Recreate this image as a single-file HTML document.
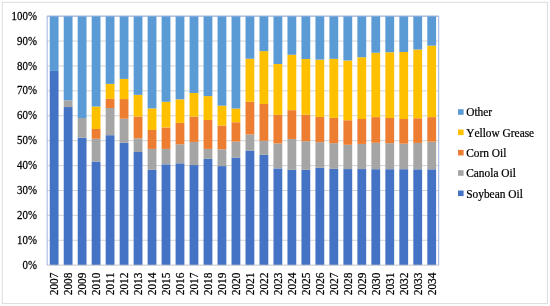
<!DOCTYPE html>
<html><head><meta charset="utf-8"><title>Chart</title>
<style>html,body{margin:0;padding:0;background:#fff}svg{display:block}text{font-family:"Liberation Serif","Times New Roman",serif;font-size:11px;fill:#000;stroke:#000;stroke-width:0.22px;font-kerning:none}</style></head><body>
<svg width="550" height="306" viewBox="0 0 550 306">
<rect x="0" y="0" width="550" height="306" fill="#ffffff"/>
<rect x="2.3" y="2.3" width="545.1" height="301.3" fill="#fff" stroke="#dcdcdc" stroke-width="1"/>
<line x1="47.15" x2="438.7" y1="265.20" y2="265.20" stroke="#d4d4d4" stroke-width="1"/>
<line x1="47.15" x2="438.7" y1="240.29" y2="240.29" stroke="#d4d4d4" stroke-width="1"/>
<line x1="47.15" x2="438.7" y1="215.39" y2="215.39" stroke="#d4d4d4" stroke-width="1"/>
<line x1="47.15" x2="438.7" y1="190.49" y2="190.49" stroke="#d4d4d4" stroke-width="1"/>
<line x1="47.15" x2="438.7" y1="165.58" y2="165.58" stroke="#d4d4d4" stroke-width="1"/>
<line x1="47.15" x2="438.7" y1="140.67" y2="140.67" stroke="#d4d4d4" stroke-width="1"/>
<line x1="47.15" x2="438.7" y1="115.77" y2="115.77" stroke="#d4d4d4" stroke-width="1"/>
<line x1="47.15" x2="438.7" y1="90.86" y2="90.86" stroke="#d4d4d4" stroke-width="1"/>
<line x1="47.15" x2="438.7" y1="65.96" y2="65.96" stroke="#d4d4d4" stroke-width="1"/>
<line x1="47.15" x2="438.7" y1="41.05" y2="41.05" stroke="#d4d4d4" stroke-width="1"/>
<line x1="47.15" x2="438.7" y1="16.15" y2="16.15" stroke="#d4d4d4" stroke-width="1"/>
<rect x="49.74" y="70.94" width="8.80" height="194.26" fill="#4472C4"/>
<rect x="49.74" y="16.15" width="8.80" height="54.79" fill="#5B9BD5"/>
<rect x="63.73" y="107.05" width="8.80" height="158.15" fill="#4472C4"/>
<rect x="63.73" y="100.33" width="8.80" height="6.72" fill="#A5A5A5"/>
<rect x="63.73" y="16.15" width="8.80" height="84.18" fill="#5B9BD5"/>
<rect x="77.71" y="137.69" width="8.80" height="127.51" fill="#4472C4"/>
<rect x="77.71" y="118.01" width="8.80" height="19.67" fill="#A5A5A5"/>
<rect x="77.71" y="16.15" width="8.80" height="101.86" fill="#5B9BD5"/>
<rect x="91.69" y="161.60" width="8.80" height="103.60" fill="#4472C4"/>
<rect x="91.69" y="138.81" width="8.80" height="22.79" fill="#A5A5A5"/>
<rect x="91.69" y="128.97" width="8.80" height="9.84" fill="#ED7D31"/>
<rect x="91.69" y="106.56" width="8.80" height="22.41" fill="#FFC000"/>
<rect x="91.69" y="16.15" width="8.80" height="90.41" fill="#5B9BD5"/>
<rect x="105.68" y="135.20" width="8.80" height="130.00" fill="#4472C4"/>
<rect x="105.68" y="108.05" width="8.80" height="27.15" fill="#A5A5A5"/>
<rect x="105.68" y="98.83" width="8.80" height="9.21" fill="#ED7D31"/>
<rect x="105.68" y="83.89" width="8.80" height="14.94" fill="#FFC000"/>
<rect x="105.68" y="16.15" width="8.80" height="67.74" fill="#5B9BD5"/>
<rect x="119.66" y="142.79" width="8.80" height="122.41" fill="#4472C4"/>
<rect x="119.66" y="118.76" width="8.80" height="24.03" fill="#A5A5A5"/>
<rect x="119.66" y="99.08" width="8.80" height="19.67" fill="#ED7D31"/>
<rect x="119.66" y="78.91" width="8.80" height="20.17" fill="#FFC000"/>
<rect x="119.66" y="16.15" width="8.80" height="62.76" fill="#5B9BD5"/>
<rect x="133.65" y="152.01" width="8.80" height="113.19" fill="#4472C4"/>
<rect x="133.65" y="138.43" width="8.80" height="13.57" fill="#A5A5A5"/>
<rect x="133.65" y="116.52" width="8.80" height="21.92" fill="#ED7D31"/>
<rect x="133.65" y="94.85" width="8.80" height="21.67" fill="#FFC000"/>
<rect x="133.65" y="16.15" width="8.80" height="78.70" fill="#5B9BD5"/>
<rect x="147.63" y="169.81" width="8.80" height="95.39" fill="#4472C4"/>
<rect x="147.63" y="148.89" width="8.80" height="20.92" fill="#A5A5A5"/>
<rect x="147.63" y="129.97" width="8.80" height="18.93" fill="#ED7D31"/>
<rect x="147.63" y="108.42" width="8.80" height="21.54" fill="#FFC000"/>
<rect x="147.63" y="16.15" width="8.80" height="92.27" fill="#5B9BD5"/>
<rect x="161.61" y="164.33" width="8.80" height="100.87" fill="#4472C4"/>
<rect x="161.61" y="148.89" width="8.80" height="15.44" fill="#A5A5A5"/>
<rect x="161.61" y="127.48" width="8.80" height="21.42" fill="#ED7D31"/>
<rect x="161.61" y="101.82" width="8.80" height="25.65" fill="#FFC000"/>
<rect x="161.61" y="16.15" width="8.80" height="85.67" fill="#5B9BD5"/>
<rect x="175.60" y="163.34" width="8.80" height="101.86" fill="#4472C4"/>
<rect x="175.60" y="144.29" width="8.80" height="19.05" fill="#A5A5A5"/>
<rect x="175.60" y="122.87" width="8.80" height="21.42" fill="#ED7D31"/>
<rect x="175.60" y="99.33" width="8.80" height="23.54" fill="#FFC000"/>
<rect x="175.60" y="16.15" width="8.80" height="83.18" fill="#5B9BD5"/>
<rect x="189.58" y="165.08" width="8.80" height="100.12" fill="#4472C4"/>
<rect x="189.58" y="141.92" width="8.80" height="23.16" fill="#A5A5A5"/>
<rect x="189.58" y="116.52" width="8.80" height="25.40" fill="#ED7D31"/>
<rect x="189.58" y="92.98" width="8.80" height="23.54" fill="#FFC000"/>
<rect x="189.58" y="16.15" width="8.80" height="76.83" fill="#5B9BD5"/>
<rect x="203.57" y="158.86" width="8.80" height="106.34" fill="#4472C4"/>
<rect x="203.57" y="148.89" width="8.80" height="9.96" fill="#A5A5A5"/>
<rect x="203.57" y="120.00" width="8.80" height="28.89" fill="#ED7D31"/>
<rect x="203.57" y="96.10" width="8.80" height="23.91" fill="#FFC000"/>
<rect x="203.57" y="16.15" width="8.80" height="79.95" fill="#5B9BD5"/>
<rect x="217.55" y="166.08" width="8.80" height="99.12" fill="#4472C4"/>
<rect x="217.55" y="149.27" width="8.80" height="16.81" fill="#A5A5A5"/>
<rect x="217.55" y="125.61" width="8.80" height="23.66" fill="#ED7D31"/>
<rect x="217.55" y="105.68" width="8.80" height="19.92" fill="#FFC000"/>
<rect x="217.55" y="16.15" width="8.80" height="89.53" fill="#5B9BD5"/>
<rect x="231.53" y="157.61" width="8.80" height="107.59" fill="#4472C4"/>
<rect x="231.53" y="141.55" width="8.80" height="16.06" fill="#A5A5A5"/>
<rect x="231.53" y="122.25" width="8.80" height="19.30" fill="#ED7D31"/>
<rect x="231.53" y="108.55" width="8.80" height="13.70" fill="#FFC000"/>
<rect x="231.53" y="16.15" width="8.80" height="92.40" fill="#5B9BD5"/>
<rect x="245.52" y="150.51" width="8.80" height="114.69" fill="#4472C4"/>
<rect x="245.52" y="134.45" width="8.80" height="16.06" fill="#A5A5A5"/>
<rect x="245.52" y="101.70" width="8.80" height="32.75" fill="#ED7D31"/>
<rect x="245.52" y="58.74" width="8.80" height="42.96" fill="#FFC000"/>
<rect x="245.52" y="16.15" width="8.80" height="42.59" fill="#5B9BD5"/>
<rect x="259.50" y="154.87" width="8.80" height="110.33" fill="#4472C4"/>
<rect x="259.50" y="140.80" width="8.80" height="14.07" fill="#A5A5A5"/>
<rect x="259.50" y="103.94" width="8.80" height="36.86" fill="#ED7D31"/>
<rect x="259.50" y="51.14" width="8.80" height="52.80" fill="#FFC000"/>
<rect x="259.50" y="16.15" width="8.80" height="34.99" fill="#5B9BD5"/>
<rect x="273.48" y="168.44" width="8.80" height="96.76" fill="#4472C4"/>
<rect x="273.48" y="143.41" width="8.80" height="25.03" fill="#A5A5A5"/>
<rect x="273.48" y="114.90" width="8.80" height="28.52" fill="#ED7D31"/>
<rect x="273.48" y="63.97" width="8.80" height="50.93" fill="#FFC000"/>
<rect x="273.48" y="16.15" width="8.80" height="47.82" fill="#5B9BD5"/>
<rect x="287.47" y="169.81" width="8.80" height="95.39" fill="#4472C4"/>
<rect x="287.47" y="138.93" width="8.80" height="30.88" fill="#A5A5A5"/>
<rect x="287.47" y="110.17" width="8.80" height="28.77" fill="#ED7D31"/>
<rect x="287.47" y="54.75" width="8.80" height="55.41" fill="#FFC000"/>
<rect x="287.47" y="16.15" width="8.80" height="38.60" fill="#5B9BD5"/>
<rect x="301.45" y="169.81" width="8.80" height="95.39" fill="#4472C4"/>
<rect x="301.45" y="141.17" width="8.80" height="28.64" fill="#A5A5A5"/>
<rect x="301.45" y="114.77" width="8.80" height="26.40" fill="#ED7D31"/>
<rect x="301.45" y="58.99" width="8.80" height="55.79" fill="#FFC000"/>
<rect x="301.45" y="16.15" width="8.80" height="42.84" fill="#5B9BD5"/>
<rect x="315.44" y="167.82" width="8.80" height="97.38" fill="#4472C4"/>
<rect x="315.44" y="142.17" width="8.80" height="25.65" fill="#A5A5A5"/>
<rect x="315.44" y="117.02" width="8.80" height="25.15" fill="#ED7D31"/>
<rect x="315.44" y="59.61" width="8.80" height="57.41" fill="#FFC000"/>
<rect x="315.44" y="16.15" width="8.80" height="43.46" fill="#5B9BD5"/>
<rect x="329.42" y="168.82" width="8.80" height="96.38" fill="#4472C4"/>
<rect x="329.42" y="143.17" width="8.80" height="25.65" fill="#A5A5A5"/>
<rect x="329.42" y="117.89" width="8.80" height="25.28" fill="#ED7D31"/>
<rect x="329.42" y="58.86" width="8.80" height="59.02" fill="#FFC000"/>
<rect x="329.42" y="16.15" width="8.80" height="42.71" fill="#5B9BD5"/>
<rect x="343.40" y="169.07" width="8.80" height="96.13" fill="#4472C4"/>
<rect x="343.40" y="144.78" width="8.80" height="24.28" fill="#A5A5A5"/>
<rect x="343.40" y="120.25" width="8.80" height="24.53" fill="#ED7D31"/>
<rect x="343.40" y="60.48" width="8.80" height="59.77" fill="#FFC000"/>
<rect x="343.40" y="16.15" width="8.80" height="44.33" fill="#5B9BD5"/>
<rect x="357.39" y="169.07" width="8.80" height="96.13" fill="#4472C4"/>
<rect x="357.39" y="143.91" width="8.80" height="25.15" fill="#A5A5A5"/>
<rect x="357.39" y="119.01" width="8.80" height="24.91" fill="#ED7D31"/>
<rect x="357.39" y="57.24" width="8.80" height="61.76" fill="#FFC000"/>
<rect x="357.39" y="16.15" width="8.80" height="41.09" fill="#5B9BD5"/>
<rect x="371.37" y="169.19" width="8.80" height="96.01" fill="#4472C4"/>
<rect x="371.37" y="142.79" width="8.80" height="26.40" fill="#A5A5A5"/>
<rect x="371.37" y="117.14" width="8.80" height="25.65" fill="#ED7D31"/>
<rect x="371.37" y="52.76" width="8.80" height="64.38" fill="#FFC000"/>
<rect x="371.37" y="16.15" width="8.80" height="36.61" fill="#5B9BD5"/>
<rect x="385.36" y="169.19" width="8.80" height="96.01" fill="#4472C4"/>
<rect x="385.36" y="143.17" width="8.80" height="26.03" fill="#A5A5A5"/>
<rect x="385.36" y="118.01" width="8.80" height="25.15" fill="#ED7D31"/>
<rect x="385.36" y="52.26" width="8.80" height="65.75" fill="#FFC000"/>
<rect x="385.36" y="16.15" width="8.80" height="36.11" fill="#5B9BD5"/>
<rect x="399.34" y="169.19" width="8.80" height="96.01" fill="#4472C4"/>
<rect x="399.34" y="143.66" width="8.80" height="25.53" fill="#A5A5A5"/>
<rect x="399.34" y="119.01" width="8.80" height="24.66" fill="#ED7D31"/>
<rect x="399.34" y="52.01" width="8.80" height="66.99" fill="#FFC000"/>
<rect x="399.34" y="16.15" width="8.80" height="35.86" fill="#5B9BD5"/>
<rect x="413.32" y="169.32" width="8.80" height="95.88" fill="#4472C4"/>
<rect x="413.32" y="142.92" width="8.80" height="26.40" fill="#A5A5A5"/>
<rect x="413.32" y="118.26" width="8.80" height="24.66" fill="#ED7D31"/>
<rect x="413.32" y="49.52" width="8.80" height="68.74" fill="#FFC000"/>
<rect x="413.32" y="16.15" width="8.80" height="33.37" fill="#5B9BD5"/>
<rect x="427.31" y="169.32" width="8.80" height="95.88" fill="#4472C4"/>
<rect x="427.31" y="141.67" width="8.80" height="27.64" fill="#A5A5A5"/>
<rect x="427.31" y="117.14" width="8.80" height="24.53" fill="#ED7D31"/>
<rect x="427.31" y="45.66" width="8.80" height="71.48" fill="#FFC000"/>
<rect x="427.31" y="16.15" width="8.80" height="29.51" fill="#5B9BD5"/>
<line x1="47.15" x2="438.7" y1="265.2" y2="265.2" stroke="#d9d9d9" stroke-width="0.9"/>
<path d="M47.15 265.2V16.15H438.7V265.2" fill="none" stroke="#8faadc" stroke-width="0.9"/>
<text transform="translate(37,268.75) scale(0.99,1.16)" text-anchor="end">0%</text>
<text transform="translate(37,243.84) scale(0.99,1.16)" text-anchor="end">10%</text>
<text transform="translate(37,218.94) scale(0.99,1.16)" text-anchor="end">20%</text>
<text transform="translate(37,194.04) scale(0.99,1.16)" text-anchor="end">30%</text>
<text transform="translate(37,169.13) scale(0.99,1.16)" text-anchor="end">40%</text>
<text transform="translate(37,144.22) scale(0.99,1.16)" text-anchor="end">50%</text>
<text transform="translate(37,119.32) scale(0.99,1.16)" text-anchor="end">60%</text>
<text transform="translate(37,94.41) scale(0.99,1.16)" text-anchor="end">70%</text>
<text transform="translate(37,69.51) scale(0.99,1.16)" text-anchor="end">80%</text>
<text transform="translate(37,44.60) scale(0.99,1.16)" text-anchor="end">90%</text>
<text transform="translate(37,19.70) scale(0.99,1.16)" text-anchor="end">100%</text>
<text transform="translate(57.99,295.2) rotate(-90) scale(1.03,1.16)">2007</text>
<text transform="translate(71.98,295.2) rotate(-90) scale(1.03,1.16)">2008</text>
<text transform="translate(85.96,295.2) rotate(-90) scale(1.03,1.16)">2009</text>
<text transform="translate(99.94,295.2) rotate(-90) scale(1.03,1.16)">2010</text>
<text transform="translate(113.93,295.2) rotate(-90) scale(1.03,1.16)">2011</text>
<text transform="translate(127.91,295.2) rotate(-90) scale(1.03,1.16)">2012</text>
<text transform="translate(141.90,295.2) rotate(-90) scale(1.03,1.16)">2013</text>
<text transform="translate(155.88,295.2) rotate(-90) scale(1.03,1.16)">2014</text>
<text transform="translate(169.86,295.2) rotate(-90) scale(1.03,1.16)">2015</text>
<text transform="translate(183.85,295.2) rotate(-90) scale(1.03,1.16)">2016</text>
<text transform="translate(197.83,295.2) rotate(-90) scale(1.03,1.16)">2017</text>
<text transform="translate(211.82,295.2) rotate(-90) scale(1.03,1.16)">2018</text>
<text transform="translate(225.80,295.2) rotate(-90) scale(1.03,1.16)">2019</text>
<text transform="translate(239.78,295.2) rotate(-90) scale(1.03,1.16)">2020</text>
<text transform="translate(253.77,295.2) rotate(-90) scale(1.03,1.16)">2021</text>
<text transform="translate(267.75,295.2) rotate(-90) scale(1.03,1.16)">2022</text>
<text transform="translate(281.73,295.2) rotate(-90) scale(1.03,1.16)">2023</text>
<text transform="translate(295.72,295.2) rotate(-90) scale(1.03,1.16)">2024</text>
<text transform="translate(309.70,295.2) rotate(-90) scale(1.03,1.16)">2025</text>
<text transform="translate(323.69,295.2) rotate(-90) scale(1.03,1.16)">2026</text>
<text transform="translate(337.67,295.2) rotate(-90) scale(1.03,1.16)">2027</text>
<text transform="translate(351.65,295.2) rotate(-90) scale(1.03,1.16)">2028</text>
<text transform="translate(365.64,295.2) rotate(-90) scale(1.03,1.16)">2029</text>
<text transform="translate(379.62,295.2) rotate(-90) scale(1.03,1.16)">2030</text>
<text transform="translate(393.61,295.2) rotate(-90) scale(1.03,1.16)">2031</text>
<text transform="translate(407.59,295.2) rotate(-90) scale(1.03,1.16)">2032</text>
<text transform="translate(421.57,295.2) rotate(-90) scale(1.03,1.16)">2033</text>
<text transform="translate(435.56,295.2) rotate(-90) scale(1.03,1.16)">2034</text>
<rect x="458" y="109.20" width="5.6" height="5.6" fill="#5B9BD5"/>
<text transform="translate(466.2,116.30) scale(1,1.02)" style="font-size:11.4px">Other</text>
<rect x="458" y="129.53" width="5.6" height="5.6" fill="#FFC000"/>
<text transform="translate(466.2,136.63) scale(1,1.02)" style="font-size:11.4px">Yellow Grease</text>
<rect x="458" y="149.86" width="5.6" height="5.6" fill="#ED7D31"/>
<text transform="translate(466.2,156.96) scale(1,1.02)" style="font-size:11.4px">Corn Oil</text>
<rect x="458" y="170.19" width="5.6" height="5.6" fill="#A5A5A5"/>
<text transform="translate(466.2,177.29) scale(1,1.02)" style="font-size:11.4px">Canola Oil</text>
<rect x="458" y="190.52" width="5.6" height="5.6" fill="#4472C4"/>
<text transform="translate(466.2,197.62) scale(1,1.02)" style="font-size:11.4px">Soybean Oil</text>
</svg></body></html>
